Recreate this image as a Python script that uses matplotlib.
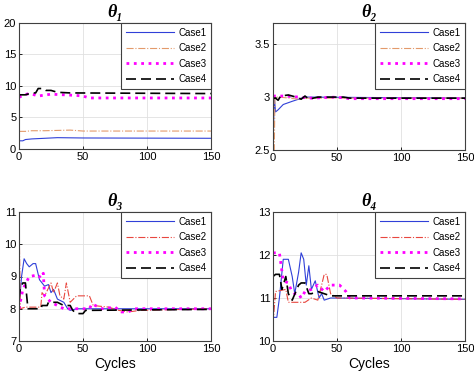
import numpy as np
import matplotlib
matplotlib.use('Agg')
import matplotlib.pyplot as plt

plt.rcParams.update({
    'font.family': ['Liberation Sans', 'DejaVu Sans'],
    'font.size': 8,
    'xtick.direction': 'in',
    'ytick.direction': 'in',
})

# --- Data ---
cases = ['Case1', 'Case2', 'Case3', 'Case4']

# theta_1
t1_x = {
    'Case1': [0, 3, 5, 10, 20, 30, 50, 150],
    'Case2': [0, 5, 10, 20, 40, 50, 150],
    'Case3': [0, 4, 8, 12, 15, 18, 25, 35, 45, 50, 55, 150],
    'Case4': [0, 5, 10, 13, 15, 19, 21, 25, 30, 40, 150],
}
t1_y = {
    'Case1': [1.3, 1.3, 1.5, 1.6, 1.7, 1.8, 1.75, 1.7],
    'Case2': [2.8, 2.8, 2.9, 2.9, 3.0, 2.85, 2.85],
    'Case3': [8.2, 8.6, 8.8, 8.6, 8.4, 8.5, 8.7, 8.6, 8.5, 8.4, 8.1, 8.1],
    'Case4': [8.6, 8.6, 8.9, 8.9, 9.6, 9.6, 9.3, 9.3, 9.0, 8.9, 8.8],
}

# theta_2
t2_x = {
    'Case1': [0, 1, 2, 4, 8, 15, 20, 25, 150],
    'Case2': [0, 1, 1.5, 5, 20, 25, 150],
    'Case3': [0, 10, 20, 30, 50, 60, 150],
    'Case4': [0, 2, 4, 6, 12, 18, 22, 25, 28, 35, 55, 60, 150],
}
t2_y = {
    'Case1': [2.5, 3.0, 2.86, 2.88, 2.93, 2.96, 2.98, 3.0, 2.99],
    'Case2': [2.5, 2.5, 3.0, 3.0, 2.98, 2.99, 2.99],
    'Case3': [3.01, 3.01, 3.0, 2.99, 3.0, 2.985, 2.985],
    'Case4': [2.99, 2.99, 2.97, 3.01, 3.02, 3.0, 2.98, 3.01, 2.98, 3.0, 3.0, 2.99, 2.99],
}

# theta_3
t3_x = {
    'Case1': [0, 2, 4, 6, 8, 11, 13, 16, 20, 23, 25, 27, 30, 35, 38, 40, 45, 150],
    'Case2': [0, 1, 5, 17, 18, 20, 25, 27, 30, 32, 35, 37, 40, 45, 55, 58, 70, 78, 85, 95, 150],
    'Case3': [0, 3, 8, 15, 17, 19, 20, 25, 30, 35, 55, 57, 65, 75, 80, 85, 90, 150],
    'Case4': [0, 1, 3, 5, 6, 7, 17, 18, 22, 23, 30, 35, 40, 42, 45, 50, 52, 150],
}
t3_y = {
    'Case1': [8.0, 9.0, 9.55, 9.4, 9.3, 9.4, 9.4, 8.9, 8.7, 8.75, 8.5, 8.6, 8.3, 8.2, 8.0, 7.95, 8.0, 8.0],
    'Case2': [11.0, 8.0, 8.05, 8.05, 8.5, 8.4, 8.8, 8.5, 8.8, 8.4, 8.3, 8.8, 8.2, 8.4, 8.4, 8.1,
              8.05, 7.95, 7.9, 7.95, 8.0],
    'Case3': [8.0, 8.6, 9.0, 9.05, 8.95, 9.1, 8.4, 8.2, 8.1, 8.0, 8.0, 8.15, 8.0, 8.05, 7.9, 7.9, 8.0, 8.0],
    'Case4': [8.3, 8.65, 8.8, 8.8, 8.4, 8.0, 8.0, 8.1, 8.1, 8.2, 8.2, 8.1, 8.1, 7.95, 7.85, 7.85, 7.95, 7.98],
}

# theta_4
t4_x = {
    'Case1': [0, 3, 5, 8, 12, 15, 17, 20, 22, 24, 26, 28, 30, 33, 36, 38, 40, 45, 150],
    'Case2': [0, 2, 10, 12, 25, 30, 35, 38, 40, 42, 45, 50, 150],
    'Case3': [0, 5, 8, 12, 14, 17, 20, 22, 25, 30, 35, 40, 45, 52, 57, 60, 150],
    'Case4': [0, 2, 5, 7, 10, 12, 15, 20, 22, 25, 28, 30, 35, 40, 45, 150],
}
t4_y = {
    'Case1': [10.55, 10.55, 11.0, 11.9, 11.9, 11.5, 11.1, 11.6, 12.05, 11.9, 11.3, 11.75, 11.2,
              11.4, 11.0, 11.1, 10.95, 11.0, 10.97],
    'Case2': [10.4, 11.15, 11.2, 10.9, 10.9, 11.0, 10.95, 11.3, 11.55, 11.55, 11.1, 11.0, 10.97],
    'Case3': [12.05, 12.05, 11.4, 11.35, 11.2, 11.1, 11.1, 11.0, 11.15, 11.2, 11.3, 11.15, 11.3,
              11.3, 11.15, 11.0, 10.98],
    'Case4': [11.5, 11.55, 11.55, 11.2, 11.5, 11.1, 10.95, 11.3, 11.35, 11.35, 11.1, 11.1, 11.15,
              11.1, 11.05, 11.05],
}

panels = [
    ('θ₁', t1_x, t1_y, (0, 20), [0, 5, 10, 15, 20], '#E39A6B'),
    ('θ₂', t2_x, t2_y, (2.5, 3.7), [2.5, 3, 3.5], '#E39A6B'),
    ('θ₃', t3_x, t3_y, (7, 11), [7, 8, 9, 10, 11], '#E8473F'),
    ('θ₄', t4_x, t4_y, (10, 13), [10, 11, 12, 13], '#E8473F'),
]

# axes rectangles in pixels (left, top, right, bottom) for a 474x376 canvas
W, H = 474, 376
rects = [(19, 23, 211, 149), (273, 23, 465, 150), (19, 212, 211, 341), (273, 212, 465, 341)]

fig = plt.figure(figsize=(W / 100, H / 100), dpi=100)

for k, (title, xs, ys, ylim, yticks, c2color) in enumerate(panels):
    l, t, r, b = rects[k]
    ax = fig.add_axes([l / W, 1 - b / H, (r - l) / W, (b - t) / H])
    styles = {
        'Case1': dict(color='#3040D8', linestyle='-', linewidth=0.8),
        'Case2': dict(color=c2color, linestyle='-.', linewidth=0.8),
        'Case3': dict(color='#FF00FF', linestyle=':', linewidth=2.0),
        'Case4': dict(color='black', linestyle=(0, (6, 3)), linewidth=1.2),
    }
    for name in cases:
        ax.plot(xs[name], ys[name], label=name, **styles[name])
    ax.set_xlim(0, 150)
    ax.set_ylim(*ylim)
    ax.set_xticks([0, 50, 100, 150])
    ax.set_yticks(yticks)
    ax.set_yticklabels([f'{v:g}' for v in yticks])
    ax.grid(True, color='#E0E0E0', linewidth=0.6)
    ax.set_axisbelow(True)
    for s in ax.spines.values():
        s.set_color('#404040')
        s.set_linewidth(0.8)
    ax.tick_params(length=2, width=0.6, colors='black', labelsize=8, pad=2)
    ax.set_title(title, fontsize=13, pad=4, family=['Liberation Serif', 'DejaVu Serif'],
                 style='italic', weight='bold')
    leg = ax.legend(loc='upper right', borderaxespad=0, fontsize=7, handlelength=5,
                    fancybox=False, framealpha=1, edgecolor='#404040',
                    labelspacing=0.55, borderpad=0.5, handletextpad=0.4)
    leg.get_frame().set_linewidth(0.8)
    if k >= 2:
        ax.set_xlabel('Cycles', fontsize=10, labelpad=2)

fig.savefig('out.png', dpi=100)
